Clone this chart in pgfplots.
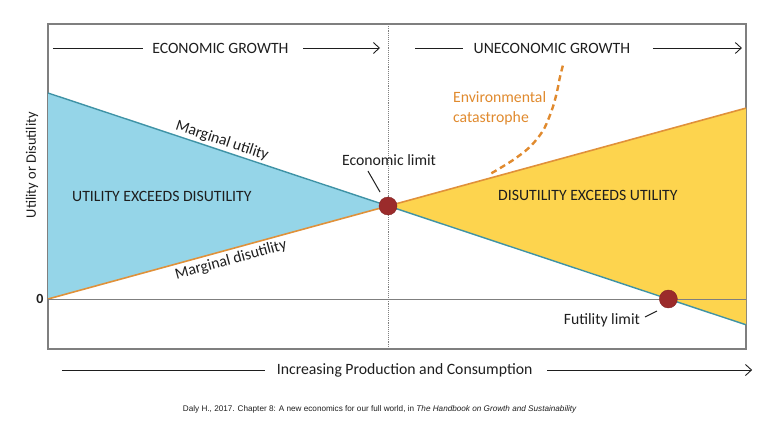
\documentclass[border=0pt]{standalone}
\usepackage{pgfplots}
\pgfplotsset{compat=1.18}
\usepackage{fontspec}
\setmainfont{Carlito}
\newfontfamily\arialfont{Liberation Sans}
\usetikzlibrary{arrows.meta}
\definecolor{ublue}{HTML}{95D5E8}
\definecolor{uyellow}{HTML}{FDD44E}
\definecolor{dred}{HTML}{9B2B2B}
\definecolor{mucol}{HTML}{3F93A6}
\definecolor{mdcol}{HTML}{E0913A}
\definecolor{catcol}{HTML}{E08A2E}
\definecolor{boxgray}{HTML}{7F7F7F}
\definecolor{txt}{HTML}{1E1E1E}
\begin{document}
\begin{tikzpicture}
\begin{axis}[
  scale only axis, width=698bp, height=325bp,
  at={(48bp,-349bp)}, anchor=south west,
  xmin=0, xmax=20.5294, ymin=-5, ymax=27.5,
  clip=false,
  axis line style={boxgray, line width=1.3bp},
  xtick=\empty, ytick={0}, yticklabels={0},
  major tick length=0pt,
  yticklabel style={font=\fontsize{14}{15}\selectfont\bfseries, text=txt, xshift=-1bp},
  every axis/.append style={font=\fontsize{15.8}{18}\selectfont},
]
% data
\addplot[fill=ublue, draw=none] coordinates {(0,20.6) (10,9.3) (0,0)} -- cycle;
\addplot[fill=uyellow, draw=none] coordinates {(10,9.3) (20.5294,19.09) (20.5294,-2.58)} -- cycle;
\addplot[mucol, line width=1.4bp] coordinates {(0,20.6) (20.5294,-2.58)};
\addplot[mdcol, line width=1.6bp] coordinates {(0,0) (20.5294,19.09)};
\addplot[boxgray, line width=1bp] coordinates {(0,0) (20.5294,0)};
\addplot[boxgray, line width=0.9bp, densely dotted] coordinates {(10,-5) (10,27.5)};
\addplot[catcol, line width=2.4bp, dash pattern=on 6bp off 4bp, smooth, tension=0.5] coordinates {(13.04,12.57) (13.68,13.9) (14.18,15.23) (14.57,16.9) (14.82,18.9) (14.96,20.57) (15.06,22.23) (15.16,23.57)};
\addplot[only marks, mark=*, mark size=9bp, mark options={fill=dred, draw=dred!85!black}] coordinates {(10,9.3) (18.246,0)};
% annotations
\node[text=txt] at (axis cs:5.07,25.1) {ECONOMIC GROWTH};
\draw[txt, line width=0.9bp] (axis cs:0.147,25.1) -- (axis cs:2.794,25.1);
\draw[txt, line width=0.9bp, -{Straight Barb[length=6bp,width=11bp]}] (axis cs:7.5,25.1) -- (axis cs:9.765,25.1);
\node[text=txt] at (axis cs:14.82,25.1) {UNECONOMIC GROWTH};
\draw[txt, line width=0.9bp] (axis cs:10.794,25.1) -- (axis cs:12.206,25.1);
\draw[txt, line width=0.9bp, -{Straight Barb[length=6bp,width=11bp]}] (axis cs:17.79,25.1) -- (axis cs:20.41,25.1);
\node[text=catcol, anchor=west, inner sep=0pt] at (axis cs:11.91,20.2) {Environmental};
\node[text=catcol, anchor=west, inner sep=0pt] at (axis cs:11.91,18.1) {catastrophe};
\node[text=txt, rotate=-18.4, inner sep=0pt] at (axis cs:5.12,15.8) {Marginal utility};
\node[text=txt, rotate=15.3, inner sep=0pt] at (axis cs:5.38,3.9) {Marginal disutility};
\node[text=txt] at (axis cs:3.35,10.3) {UTILITY EXCEEDS DISUTILITY};
\node[text=txt] at (axis cs:15.88,10.4) {DISUTILITY EXCEEDS UTILITY};
\node[text=txt] at (axis cs:10.03,13.9) {Economic limit};
\draw[txt, line width=1bp] (axis cs:9.41,12.8) -- (axis cs:9.765,10.7);
\node[text=txt] at (axis cs:16.29,-2.1) {Futility limit};
\draw[txt, line width=1bp] (axis cs:17.56,-1.8) -- (axis cs:17.91,-1.2);
\node[text=txt, rotate=90, font=\fontsize{14.5}{16}\selectfont] at (axis cs:-0.47,13.4) {Utility or Disutility};
\node[text=txt] at (axis cs:10.49,-7.1) {Increasing Production and Consumption};
\draw[txt, line width=0.9bp] (axis cs:0.41,-7.1) -- (axis cs:6.38,-7.1);
\draw[txt, line width=0.9bp, -{Straight Barb[length=6bp,width=11bp]}] (axis cs:14.68,-7.1) -- (axis cs:20.71,-7.1);
\node[text=txt, font=\arialfont\fontsize{8.2}{9}\selectfont] at (axis cs:9.76,-11.0) {Daly H., 2017. Chapter 8: A new economics for our full world, in \textit{The Handbook on Growth and Sustainability}};
\coordinate (TL) at (axis cs:-1.41176,29.9);
\coordinate (BR) at (axis cs:21.17647,-13.4);
\end{axis}
\pgfresetboundingbox
\useasboundingbox (TL) rectangle (BR);
\end{tikzpicture}
\end{document}
